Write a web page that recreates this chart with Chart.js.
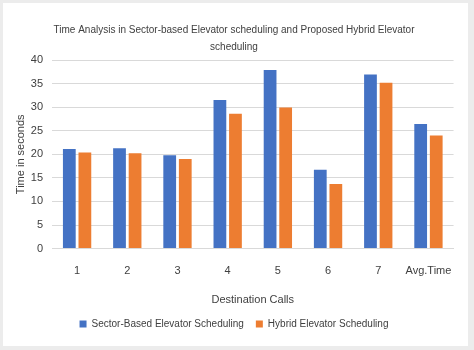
<!DOCTYPE html>
<html>
<head>
<meta charset="utf-8">
<script src="https://cdn.jsdelivr.net/npm/chart.js@4/dist/chart.umd.min.js"></script>
<style>
	html, body { margin: 0; padding: 0; background: #ececec; }
	#box { position: absolute; left: 3px; top: 3px; width: 465px; height: 343px; background: #fff; }
</style>
</head>
<body>
<div id="box"><canvas id="chart"></canvas></div>
<script>
const categories = ["1", "2", "3", "4", "5", "6", "7", "Avg.Time"]
const sectorBased = [21.1, 21.3, 19.8, 31.5, 37.9, 16.7, 36.9, 26.4]
const hybrid = [20.4, 20.2, 19.0, 28.6, 29.9, 13.7, 35.2, 24.0]
const yTicks = [0, 5, 10, 15, 20, 25, 30, 35, 40]

const fontName = "'Liberation Sans', Arial, sans-serif"
const textColor = "#404040"

const chart = new Chart("chart", {
	type: "bar",
	data: {
		labels: categories,
		datasets: [{
			label: "Sector-Based Elevator Scheduling",
			data: sectorBased,
			backgroundColor: "#4472C4"
		}, {
			label: "Hybrid Elevator Scheduling",
			data: hybrid,
			backgroundColor: "#ED7D31"
		}]
	},
	options: {
		responsive: true,
		maintainAspectRatio: false,
		animation: false,
		categoryPercentage: 0.62,
		barPercentage: 0.82,
		layout: { padding: { left: 7, right: 10, top: 12, bottom: 7 } },
		plugins: {
			title: {
				display: true,
				text: ["Time Analysis in Sector-based Elevator scheduling and Proposed Hybrid Elevator", "scheduling"],
				color: textColor,
				font: { family: fontName, size: 10, weight: "normal", lineHeight: 1.7 },
				padding: { top: 7, bottom: 4 }
			},
			legend: {
				position: "bottom",
				labels: {
					color: textColor,
					font: { family: fontName, size: 10 },
					boxWidth: 7,
					boxHeight: 7,
					padding: 12
				}
			},
			tooltip: { enabled: false }
		},
		scales: {
			x: {
				grid: { display: false, drawTicks: false },
				border: { color: "#d9d9d9" },
				ticks: { color: textColor, font: { family: fontName, size: 11 }, padding: 16, maxRotation: 0, minRotation: 0, autoSkip: false },
				title: { display: true, text: "Destination Calls", color: textColor, font: { family: fontName, size: 11 }, padding: { top: 0, bottom: 0 } }
			},
			y: {
				min: 0,
				max: 40,
				afterBuildTicks: (axis) => { axis.ticks = yTicks.map(v => ({ value: v })) },
				afterFit: (axis) => { axis.width = 42 },
				grid: { color: "#d9d9d9", drawTicks: false },
				border: { display: false },
				ticks: { color: textColor, font: { family: fontName, size: 11 }, padding: 9 },
				title: { display: true, text: "Time in seconds", color: textColor, font: { family: fontName, size: 11 } }
			}
		}
	}
})
</script>
</body>
</html>
